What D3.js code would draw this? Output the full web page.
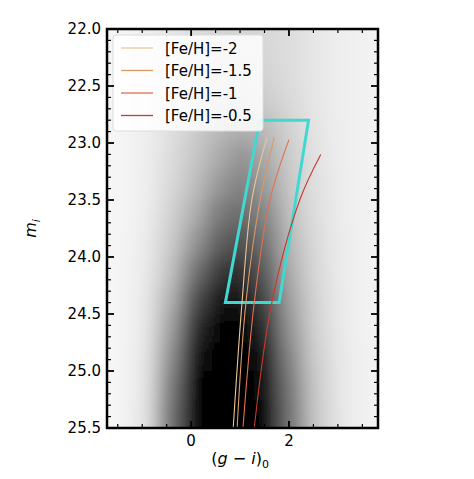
<!DOCTYPE html><html><head><meta charset="utf-8"><script src="https://cdn.jsdelivr.net/npm/d3@7"></script>
<style>body{margin:0;background:#fff}text{font-family:"DejaVu Sans",sans-serif}</style></head><body>
<script>
const xBins=[-1.45,-0.95,-0.45,0.05,0.55,1.05,1.55,2.05,2.55,3.05,3.55];
const yBins=[22.125,22.375,22.625,22.875,23.125,23.375,23.625,23.875,24.125,24.375,24.625,24.875,25.125,25.375];
const density=[
[.08,.12,.17,.22,.27,.27,.25,.22,.17,.13,.1],
[.08,.12,.18,.24,.3,.3,.27,.22,.17,.13,.1],
[.08,.12,.2,.27,.33,.35,.3,.24,.17,.13,.1],
[.08,.12,.21,.3,.38,.42,.37,.27,.19,.13,.1],
[.08,.12,.22,.33,.43,.52,.43,.3,.2,.13,.1],
[.08,.12,.24,.36,.5,.58,.48,.32,.21,.14,.1],
[.08,.13,.27,.42,.6,.66,.55,.35,.22,.14,.1],
[.08,.14,.3,.5,.7,.75,.62,.38,.24,.15,.1],
[.08,.15,.34,.62,.82,.85,.7,.42,.25,.15,.1],
[.08,.16,.4,.75,.92,.93,.78,.46,.27,.16,.1],
[.08,.16,.46,.85,.98,.98,.85,.5,.28,.16,.1],
[.08,.17,.52,.94,1,1,.92,.55,.3,.17,.1],
[.08,.18,.58,.98,1,1,.96,.6,.32,.17,.1],
[.08,.19,.62,1,1,1,.98,.62,.33,.18,.1]];
const boxPts=[[0.7,24.4],[1.8,24.4],[2.4,22.8],[1.4,22.8]];
const feh=["[Fe/H]=-2","[Fe/H]=-1.5","[Fe/H]=-1","[Fe/H]=-0.5"];
const isoColors=["#e9c79b","#d99a66","#e0704f","#c83a2c"];
const isoMag=[25.5,24.4,23.5,22.95];
const isoColor=[[0.86,1.04,1.24,1.55],[0.94,1.12,1.41,1.7],[1.06,1.29,1.61,2.0],[1.29,1.65,2.22,2.65]];
const isoTopMag=[22.95,22.95,22.97,23.1];
const xTicks=[0,2];
const yTicks=[22.0,22.5,23.0,23.5,24.0,24.5,25.0,25.5];

const W=474,H=479,L=107,R=378,T=29,B=428;
const x=d3.scaleLinear().domain([-1.72,3.82]).range([L,R]);
const y=d3.scaleLinear().domain([22,25.5]).range([T,B]);
const svg=d3.select("body").append("svg").attr("width",W).attr("height",H);
const defs=svg.append("defs");
defs.append("clipPath").attr("id","c").append("rect").attr("x",L).attr("y",T).attr("width",R-L).attr("height",B-T);
defs.append("filter").attr("id","bl").attr("x","-20%").attr("y","-20%").attr("width","140%").attr("height","140%")
 .append("feGaussianBlur").attr("stdDeviation",10);
const dg=svg.append("g").attr("clip-path","url(#c)").append("g").attr("filter","url(#bl)");
const cw=x(0.5)-x(0), ch=y(22.25)-y(22);
density.forEach((row,i)=>row.forEach((v,j)=>{
 dg.append("rect").attr("x",x(xBins[j]-0.25)-(j==0?40:0)).attr("y",y(yBins[i]-0.125)-(i==0?40:0))
  .attr("width",cw+1+(j==0||j==10?40:0)).attr("height",ch+1+(i==0||i==13?40:0))
  .attr("fill",d3.interpolateGreys(v));
}));
const pg=svg.append("g").attr("clip-path","url(#c)");
pg.append("polygon").attr("points",boxPts.map(p=>[x(p[0]),y(p[1])].join(",")).join(" "))
 .attr("fill","none").attr("stroke","#40d8d0").attr("stroke-width",3);
const line=d3.line().x(d=>x(d[0])).y(d=>y(d[1])).curve(d3.curveCatmullRom);
isoColor.forEach((cs,k)=>{
 const pts=cs.map((c,i)=>[c,i==3?isoTopMag[k]:isoMag[i]]);
 pg.append("path").attr("d",line(pts)).attr("fill","none").attr("stroke",isoColors[k]).attr("stroke-width",1.1);
});
const lg=svg.append("g");
lg.append("rect").attr("x",113).attr("y",35).attr("width",150).attr("height",96).attr("rx",3)
 .attr("fill","#fff").attr("fill-opacity",0.85).attr("stroke","#ddd");
feh.forEach((t,i)=>{
 const yy=48+i*22.5;
 lg.append("line").attr("x1",121).attr("x2",153).attr("y1",yy).attr("y2",yy).attr("stroke",isoColors[i]).attr("stroke-width",1.3);
 lg.append("text").attr("x",165).attr("y",yy+5.5).attr("font-size",15).text(t);
});
svg.append("rect").attr("x",L).attr("y",T).attr("width",R-L).attr("height",B-T).attr("fill","none").attr("stroke","#000").attr("stroke-width",2.5);
const tk=svg.append("g").attr("stroke","#000");
d3.range(-1.5,3.81,0.5).forEach(v=>{const M=Math.abs(v%2)<1e-9,l=M?7:4,w=M?1.8:1.2;
 tk.append("line").attr("x1",x(v)).attr("x2",x(v)).attr("y1",B).attr("y2",B-l).attr("stroke-width",w);
 tk.append("line").attr("x1",x(v)).attr("x2",x(v)).attr("y1",T).attr("y2",T+l).attr("stroke-width",w);});
d3.range(0,36).forEach(i=>{const v=22+i*0.1,M=i%5==0,l=M?7:4,w=M?1.8:1.2;
 tk.append("line").attr("y1",y(v)).attr("y2",y(v)).attr("x1",L).attr("x2",L+l).attr("stroke-width",w);
 tk.append("line").attr("y1",y(v)).attr("y2",y(v)).attr("x1",R).attr("x2",R-l).attr("stroke-width",w);});
xTicks.forEach(v=>svg.append("text").attr("x",x(v)).attr("y",B+18).attr("text-anchor","middle").attr("font-size",15).text(v));
yTicks.forEach(v=>svg.append("text").attr("x",L-6).attr("y",y(v)+5).attr("text-anchor","end").attr("font-size",15).text(v.toFixed(1)));
const xl=svg.append("text").attr("x",x(1)).attr("y",464).attr("text-anchor","middle").attr("font-size",16);
xl.append("tspan").text("(");xl.append("tspan").attr("font-style","italic").text("g");xl.append("tspan").text(" − ");
xl.append("tspan").attr("font-style","italic").text("i");xl.append("tspan").text(")");
xl.append("tspan").attr("font-size",11).attr("dy",4).text("0");
const yl=svg.append("text").attr("transform",`translate(36,${y(23.75)}) rotate(-90)`).attr("text-anchor","middle").attr("font-size",16);
yl.append("tspan").attr("font-style","italic").text("m");yl.append("tspan").attr("font-style","italic").attr("font-size",11).attr("dy",4).text("i");
</script></body></html>
